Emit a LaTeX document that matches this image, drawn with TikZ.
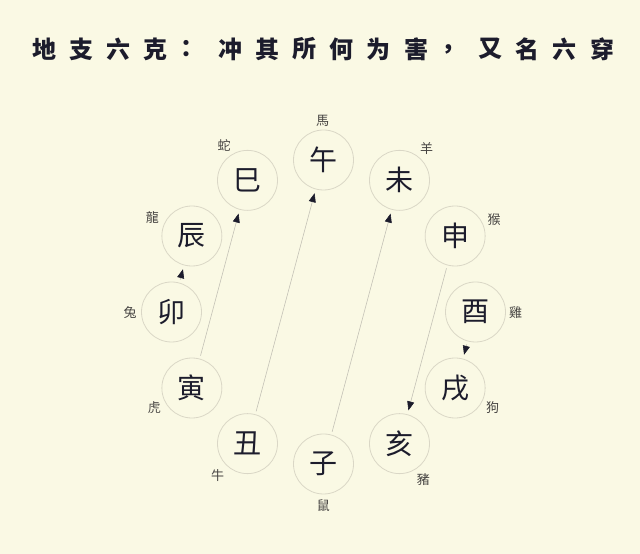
\documentclass[tikz,border=0pt]{standalone}
\usepackage{fontspec}
\usetikzlibrary{arrows.meta,calc}
\newfontfamily\cjk{Noto Sans CJK SC}
\newfontfamily\cjktc{Noto Sans CJK TC}
\definecolor{bgcol}{RGB}{250,249,228}
\definecolor{inkcol}{RGB}{28,28,44}
\definecolor{ringcol}{RGB}{218,215,198}
\definecolor{linecol}{RGB}{196,194,182}
\definecolor{animcol}{RGB}{70,68,66}
\tikzset{
  branch/.style={circle, draw=ringcol, line width=0.8pt, fill=bgcol, minimum size=60pt, inner sep=0pt, text=inkcol, font=\cjk\fontsize{28}{28}\selectfont},
  animal/.style={text=animcol, inner sep=0pt, font=\cjktc\fontsize{13}{13}\selectfont},
  titlechar/.style={text=inkcol, inner sep=0pt, font=\cjk\bfseries\fontsize{24}{24}\selectfont},
  harm/.style={draw=linecol, line width=0.6pt, shorten <=3pt, shorten >=4pt, -{Triangle[length=9pt,width=7pt,color=inkcol]}}
}
\begin{document}
\begin{tikzpicture}[x=1pt,y=1pt]
\fill[bgcol] (0,0) rectangle (640,554);
\useasboundingbox (0,0) rectangle (640,554);
% title
\foreach \c [count=\i from 0] in {地,支,六,克,：,冲,其,所,何,为,害,，,又,名,六,穿}
  \node[titlechar] (t\i) at (44+37.2*\i,505) {\c};
% branches
\coordinate (O) at (323.5,242);
\foreach \nm/\ang/\ch in {wu/90/午, wei/60/未, shen/30/申, you/0/酉, xu/-30/戌, hai/-60/亥, zi/-90/子, chou/-120/丑, yin/-150/寅, mao/180/卯, chen/150/辰, si/120/巳}
  \node[branch] (\nm) at ($(O)+(\ang:152)$) {\ch};
% animals
\node[animal] (a-wu)   at (322.7,433.3) {馬};
\node[animal] (a-wei)  at (426.7,405.7) {羊};
\node[animal] (a-shen) at (494.0,334.7) {猴};
\node[animal] (a-you)  at (515.7,241.7) {雞};
\node[animal] (a-xu)   at (492.7,146.3) {狗};
\node[animal] (a-hai)  at (423.3,74.0) {豬};
\node[animal] (a-zi)   at (323.3,48.3) {鼠};
\node[animal] (a-chou) at (217.7,78.0) {牛};
\node[animal] (a-yin)  at (154.3,146.3) {虎};
\node[animal] (a-mao)  at (130.0,241.7) {兔};
\node[animal] (a-chen) at (152.3,336.7) {龍};
\node[animal] (a-si)   at (224.0,409.0) {蛇};
% harms
\draw[harm] (yin) -- (si);
\draw[harm] (mao) -- (chen);
\draw[harm] (chou) -- (wu);
\draw[harm] (zi) -- (wei);
\draw[harm] (shen) -- (hai);
\draw[harm] (you) -- (xu);
\end{tikzpicture}
\end{document}
